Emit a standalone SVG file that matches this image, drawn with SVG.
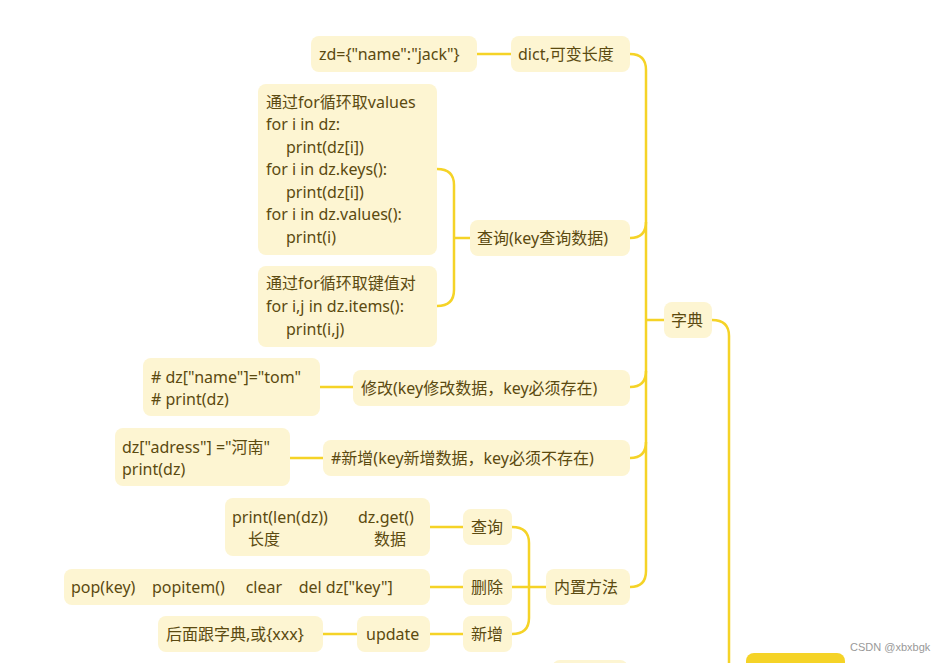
<svg xmlns="http://www.w3.org/2000/svg" width="943" height="663" viewBox="0 0 943 663">
<style>
.n{fill:#fdf5d2}
text{font-family:"Noto Sans","Noto Sans CJK SC",sans-serif;font-size:16px;fill:#5b4a10}
.c path{fill:none;stroke:#f5d327;stroke-width:2.5}
</style>
<rect width="943" height="663" fill="#fff"/>
<g class="c">
<path d="M477,54H511"/>
<path d="M630,54Q646,54 646,70V571Q646,587 630,587"/>
<path d="M630,238Q646,238 646,222"/>
<path d="M630,387Q646,387 646,371"/>
<path d="M630,458Q646,458 646,442"/>
<path d="M664,320H646"/>
<path d="M712,320Q729,320 729,336V663"/>
<path d="M437,169Q454,169 454,185V290Q454,306 437,306"/>
<path d="M470,238H454"/>
<path d="M320,387H353"/>
<path d="M290,458H323"/>
<path d="M430,527H463"/>
<path d="M430,587H463"/>
<path d="M323,634H357"/>
<path d="M430,634H463"/>
<path d="M512,527Q529,527 529,543V618Q529,634 512,634"/>
<path d="M512,587H546"/>
</g>
<g id="n1"><rect class="n" x="311" y="36" width="166" height="36" rx="8"/><text x="319" y="60">zd={"name":"jack"}</text></g>
<g id="n2"><rect class="n" x="511" y="36" width="119" height="36" rx="8"/><text x="518" y="60">dict,可变长度</text></g>
<g id="n3"><rect class="n" x="258" y="84" width="179" height="171" rx="8"/>
<text x="266" y="108">通过for循环取values</text><text x="266" y="130">for i in dz:</text><text x="286" y="153">print(dz[i])</text><text x="266" y="175">for i in dz.keys():</text><text x="286" y="198">print(dz[i])</text><text x="266" y="220">for i in dz.values():</text><text x="286" y="243">print(i)</text></g>
<g id="n4"><rect class="n" x="470" y="220" width="160" height="36" rx="8"/><text x="477" y="244">查询(key查询数据)</text></g>
<g id="n5"><rect class="n" x="258" y="266" width="179" height="81" rx="8"/>
<text x="266" y="289">通过for循环取键值对</text><text x="266" y="312">for i,j in dz.items():</text><text x="286" y="335">print(i,j)</text></g>
<g id="n6"><rect class="n" x="664" y="302" width="48" height="36" rx="8"/><text x="671" y="326">字典</text></g>
<g id="n7"><rect class="n" x="143" y="358" width="177" height="58" rx="8"/><text x="151" y="383"># dz["name"]="tom"</text><text x="151" y="405"># print(dz)</text></g>
<g id="n8"><rect class="n" x="353" y="370" width="277" height="36" rx="8"/><text x="361" y="394">修改(key修改数据，key必须存在)</text></g>
<g id="n9"><rect class="n" x="115" y="428" width="175" height="58" rx="8"/><text x="122" y="453">dz["adress"] ="河南"</text><text x="122" y="475">print(dz)</text></g>
<g id="n10"><rect class="n" x="323" y="440" width="307" height="36" rx="8"/><text x="331" y="464">#新增(key新增数据，key必须不存在)</text></g>
<g id="n11"><rect class="n" x="225" y="498" width="205" height="58" rx="8"/><text x="232" y="523">print(len(dz))</text><text x="358" y="523">dz.get()</text><text x="248" y="545">长度</text><text x="374" y="545">数据</text></g>
<g id="n12"><rect class="n" x="463" y="509" width="49" height="36" rx="8"/><text x="471" y="533">查询</text></g>
<g id="n13"><rect class="n" x="64" y="569" width="366" height="36" rx="8"/><text x="71" y="593" xml:space="preserve">pop(key)    popitem()     clear    del dz["key"]</text></g>
<g id="n14"><rect class="n" x="463" y="569" width="49" height="36" rx="8"/><text x="471" y="593">删除</text></g>
<g id="n15"><rect class="n" x="546" y="569" width="84" height="36" rx="8"/><text x="554" y="593">内置方法</text></g>
<g id="n16"><rect class="n" x="158" y="616" width="165" height="36" rx="8"/><text x="166" y="640">后面跟字典,或{xxx}</text></g>
<g id="n17"><rect class="n" x="357" y="616" width="73" height="36" rx="8"/><text x="366" y="640">update</text></g>
<g id="n18"><rect class="n" x="463" y="616" width="49" height="36" rx="8"/><text x="471" y="640">新增</text></g>
<g id="n19"><rect class="n" x="552" y="660" width="76" height="20" rx="8"/></g>
<g id="n20"><rect x="746" y="653" width="99" height="30" rx="8" fill="#f5d327"/></g>
<text x="850" y="651" style="font-size:11px;fill:#999;font-family:'Liberation Sans',sans-serif">CSDN @xbxbgk</text>
</svg>
